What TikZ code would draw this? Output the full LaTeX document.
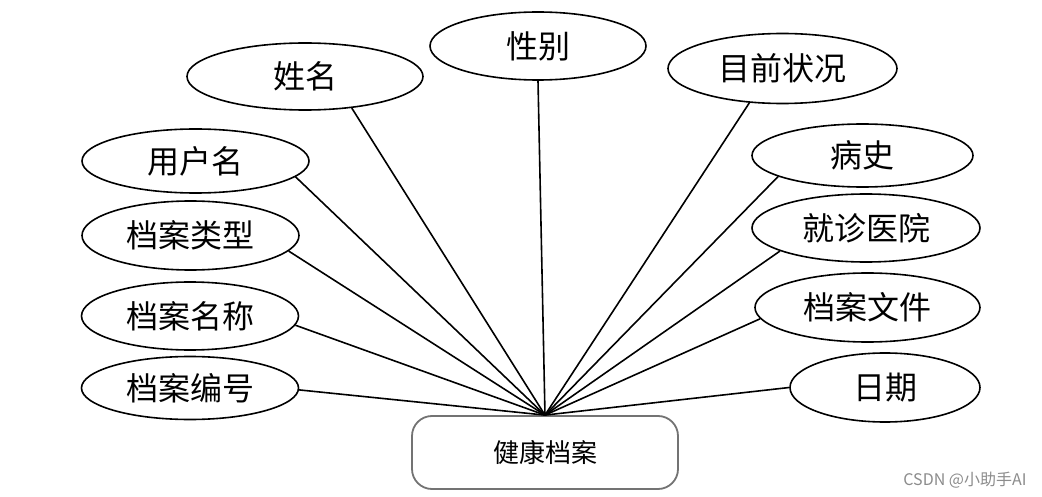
\documentclass[tikz,border=0pt]{standalone}
\usepackage{fontspec}
\newfontfamily\cjk{Noto Sans CJK SC}
\usetikzlibrary{shapes.geometric}
\begin{document}
\begin{tikzpicture}[x=1pt,y=-1pt,
  attr/.style={ellipse, draw=black, line width=1.6pt, fill=white, inner sep=0pt,
    font=\cjk\fontsize{32}{32}\selectfont},
  link/.style={draw=black, line width=1.6pt},
  entity/.style={rectangle, rounded corners=20pt, draw=black!55, line width=1.8pt,
    inner sep=0pt, minimum width=266pt, minimum height=73pt,
    font=\cjk\fontsize{26}{26}\selectfont},
  wmark/.style={font=\cjk\fontsize{16}{16}\selectfont, text=black!45}]
\useasboundingbox (0,0) rectangle (1042,497);
\fill[white] (0,0) rectangle (1042,497);

\node[entity] (e) at (545,452.5) {健康档案};

\node[attr, minimum width=236pt, minimum height=67pt] (xm) at (305,76.5) {姓名};
\node[attr, minimum width=216pt, minimum height=68pt] (xb) at (538,46) {性别};
\node[attr, minimum width=229pt, minimum height=70pt] (mq) at (782.5,68.5) {目前状况};
\node[attr, minimum width=227pt, minimum height=64pt] (yh) at (195.5,161) {用户名};
\node[attr, minimum width=221pt, minimum height=63pt] (bs) at (862.5,155.5) {病史};
\node[attr, minimum width=217pt, minimum height=69pt] (lx) at (190.5,235.5) {档案类型};
\node[attr, minimum width=228pt, minimum height=68pt] (jz) at (866,228) {就诊医院};
\node[attr, minimum width=217pt, minimum height=68pt] (mc) at (190,316) {档案名称};
\node[attr, minimum width=225pt, minimum height=69pt] (wj) at (867.5,307.5) {档案文件};
\node[attr, minimum width=217pt, minimum height=63pt] (bh) at (190,388) {档案编号};
\node[attr, minimum width=190pt, minimum height=69pt] (rq) at (885,387.5) {日期};

\draw[link] (xm.-34) -- (e.north);
\draw[link] (xb.south) -- (e.north);
\draw[link] (mq.-134) -- (e.north);
\draw[link] (yh.-9) -- (e.north);
\draw[link] (bs.-166) -- (e.north);
\draw[link] (lx.-9) -- (e.north);
\draw[link] (jz.-165) -- (e.north);
\draw[link] (mc.-5) -- (e.north);
\draw[link] (wj.-174) -- (e.north);
\draw[link] (bh.-1) -- (e.north);
\draw[link] (rq.180) -- (e.north);

\node[wmark, anchor=east] (wm) at (1030,480) {CSDN @小助手AI};
\end{tikzpicture}
\end{document}
